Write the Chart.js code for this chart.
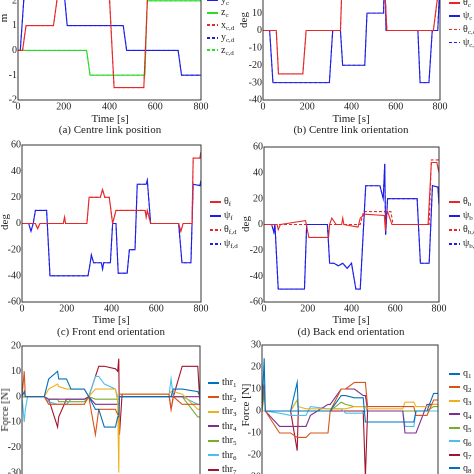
<!DOCTYPE html>
<html><head><meta charset="utf-8">
<script src="https://cdn.jsdelivr.net/npm/chart.js@4"></script>
<style>
body{margin:0;width:474px;height:474px;overflow:hidden;background:#fff;position:relative;font-family:"Liberation Serif",serif;}
canvas{position:absolute;}
.t{position:absolute;font-size:11px;color:#222;white-space:nowrap;transform:translate(-50%,-50%);}
.yl{position:absolute;font-size:11px;color:#222;white-space:nowrap;transform:translate(-50%,-50%) rotate(-90deg);}
.lg{position:absolute;font-size:10px;color:#222;white-space:nowrap;line-height:10px;}
.lg span.s{display:inline-block;width:11px;height:1.6px;vertical-align:middle;margin-right:3px;}
sub{font-size:7px;vertical-align:-2px;}
</style></head><body>
<script>
// (a) centre link position
const aT_x = [0,20,35,155,170,185,395,420,550,570,800];
const aXc  = [0,0,1,1,2,3,3,-1.5,-1.5,3,3];
const aT_y = [0,10,25,35,195,215,460,475,700,715,800];
const aYc  = [0,0,2,3,3,1,1,0,0,-1,-1];
const aT_z = [0,300,315,555,565,800];
const aZc  = [0,0,-1,-1,2,2];
// (b) centre link orientation
const bT_th = [0,60,70,180,195,350,358,548,560,770,790,800];
const bTh   = [0,0,-25,-25,0,0,30,30,0,0,20,40];
const bT_ps = [0,30,45,300,315,350,360,460,470,545,550,556,560,700,710,750,765,790,800];
const bPs   = [0,0,-30,-30,0,0,-20,-20,10,10,40,0,0,0,-30,-30,0,0,30];
// (c) front end orientation
const cT_th = [0,60,70,80,185,190,195,290,300,350,360,370,390,405,420,550,555,560,575,700,710,720,760,765,795,800];
const cTh   = [0,0,-4,0,0,5,0,0,20,20,26,20,20,0,10,10,5,10,0,0,-6,0,0,50,50,55];
const cT_ps = [0,30,40,50,60,110,125,295,305,310,320,355,360,365,395,405,420,430,470,480,505,515,555,560,575,700,715,755,765,795,800];
const cPs   = [0,0,-6,0,10,10,-40,-40,-30,-24,-30,-30,-35,-30,-30,0,0,-38,-38,-20,-20,30,30,33,0,0,-30,-30,30,29,33];
// (d) back end orientation
const dT_th = [0,60,65,75,190,205,295,300,310,330,355,360,365,430,440,460,550,555,558,565,585,750,765,790,800];
const dTh   = [0,0,-4,0,3,-10,-10,0,5,0,0,5,0,-2,5,8,7,-5,10,10,0,0,48,48,40];
const dT_thd= [0,440,455,580,590,755,765,800];
const dThd  = [0,0,10,10,0,0,50,50];
const dT_ps = [0,35,45,50,65,185,195,290,300,320,340,360,380,400,420,440,465,530,545,552,556,565,700,715,755,770,795,800];
const dPs   = [0,0,-6,0,-50,-50,0,0,-30,-30,-32,-30,-34,-30,-50,-50,30,30,20,47,-8,20,20,-30,-30,30,29,15];
// (e) thruster forces
const eT = [0,10,15,25,100,120,160,165,200,220,280,300,330,345,370,420,430,435,438,450,520,660,670,680,720,790,800];
const eThr1 = [0,2,0,0,0,7,10,7,7,3,3,0,-5,-5,-12,-12,-8,-8,0,0,0,0,0,3,3,2,0];
const eThr2 = [0,10,0,0,0,-3,-3,-3,-3,-3,-3,0,-15,-5,-5,-5,-7,-7,1,1,1,1,-5,0,-3,-3,-3];
const eThr3 = [0,0,0,0,0,3,5,4,3,3,3,0,3,3,3,3,-2,-30,1,1,1,1,2,2,1,-5,-5];
const eThr4 = [0,0,0,0,0,-1,-1,-1,-1,-1,-1,0,-3,-3,-3,-3,-3,-3,0,0,0,0,0,0,0,0,0];
const eThr5 = [0,0,0,0,0,-1,-1,-2,-2,-2,-2,0,-1,-1,-1,-1,-1,-1,0,0,0,0,0,0,0,-8,-8];
const eThr6 = [0,-10,-5,0,0,-2,-3,-3,-3,-1,-1,0,8,8,5,3,0,0,0,0,0,0,7,0,0,-3,-3];
const eThr7 = [0,0,0,0,0,-1,-12,-8,-1,-1,-1,0,8,12,12,11,10,15,-15,1,1,1,-5,0,12,12,-3];
// (f) q forces
const fT = [0,10,15,80,130,160,165,200,220,300,310,360,380,420,460,470,480,640,650,690,700,750,780,800];
const fQ1 = [0,24,0,0,0,13,0,0,0,0,0,7,7,6,6,-5,-5,-5,-5,-5,0,0,8,8];
const fQ2 = [0,12,0,-10,-10,-12,-12,-12,-10,-10,0,10,10,13,13,13,2,2,2,2,-2,-2,5,5];
const fQ3 = [0,0,0,0,0,5,2,1,1,1,1,1,1,2,2,2,1,1,4,4,2,2,3,3];
const fQ4 = [0,0,0,-7,-7,-7,-7,-7,-2,3,3,10,10,10,7,7,0,0,-10,-10,-10,3,3,3];
const fQ5 = [0,8,0,0,0,5,0,0,0,0,0,4,3,2,2,2,0,0,0,0,0,0,2,2];
const fQ6 = [0,0,0,-1,-2,-2,-2,-2,2,1,1,1,-1,-1,-1,0,0,0,-7,-7,0,0,0,0];
const fQ7 = [0,0,0,0,0,-18,0,0,0,0,0,0,0,0,0,-30,0,0,0,0,0,0,0,0];
const fQ8 = [0,0,0,0,0,0,0,0,0,0,0,0,0,0,0,0,0,0,0,0,0,0,0,0];

const RED='rgb(230,40,40)', BLUE='rgb(30,30,230)', GREEN='rgb(40,220,40)';
const M=['#0072BD','#D95319','#EDB120','#7E2F8E','#77AC30','#4DBEEE','#A2142F','#0072BD'];
const YW=20, PR=10, PT=6, XH=13;

function pts(t,v){ return t.map((x,i)=>({x:x,y:v[i]})); }
function ds(t,v,c,dash){ return {data:pts(t,v),borderColor:c,borderWidth:1.1,borderDash:dash?[3,2]:[],pointRadius:0,tension:0,fill:false}; }

const box={id:'box',afterDraw(c){const a=c.chartArea,g=c.ctx;g.save();g.strokeStyle='#333';g.lineWidth=1;g.strokeRect(a.left,a.top,a.right-a.left,a.bottom-a.top);g.restore();}};

function makeChart(L,R,T,B,ymin,ymax,ystep,sets){
  const cv=document.createElement('canvas');
  const w=R-L+YW+PR, h=B-T+PT+XH;
  cv.width=w; cv.height=h;
  cv.style.left=(L-YW)+'px'; cv.style.top=(T-PT)+'px';
  document.body.appendChild(cv);
  const tk={color:'#222',font:{family:'Liberation Serif',size:10},padding:1};
  new Chart(cv,{type:'line',data:{datasets:sets},plugins:[box],options:{
    responsive:false,animation:false,devicePixelRatio:2,
    layout:{padding:{top:PT,right:PR,left:0,bottom:0}},
    plugins:{legend:{display:false},tooltip:{enabled:false}},
    scales:{
      x:{type:'linear',min:0,max:800,ticks:{...tk,stepSize:200,maxRotation:0},grid:{display:false,drawTicks:false},border:{display:false},afterFit(s){s.height=XH;}},
      y:{min:ymin,max:ymax,ticks:{...tk,stepSize:ystep},grid:{display:false,drawTicks:false},border:{display:false},afterFit(s){s.width=YW;}}
    }}});
}
function text(cls,x,y,html){const d=document.createElement('div');d.className=cls;d.style.left=x+'px';d.style.top=y+'px';d.innerHTML=html;document.body.appendChild(d);}
function legend(x,y,dy,items){items.forEach((it,i)=>{const d=document.createElement('div');d.className='lg';d.style.left=x+'px';d.style.top=(y+i*dy-5)+'px';
  const bg=it[2]?'repeating-linear-gradient(90deg,'+it[1]+' 0 3px,transparent 3px 5px)':it[1];
  d.innerHTML='<span class="s" style="background:'+bg+'"></span>'+it[0];document.body.appendChild(d);});}

makeChart(18,201,-25,100,-2,3,1,[ds(aT_x,aXc,RED),ds(aT_y,aYc,BLUE),ds(aT_z,aZc,GREEN),ds(aT_x,aXc,RED,1),ds(aT_y,aYc,BLUE,1),ds(aT_z,aZc,GREEN,1)]);
makeChart(263,440,-40,100,-40,40,10,[ds(bT_th,bTh,RED),ds(bT_ps,bPs,BLUE),ds(bT_th,bTh,RED,1),ds(bT_ps,bPs,BLUE,1)]);
makeChart(22,201,144,302,-60,60,20,[ds(cT_th,cTh,RED),ds(cT_ps,cPs,BLUE),ds(cT_th,cTh,RED,1),ds(cT_ps,cPs,BLUE,1)]);
makeChart(264,439,146,302,-60,60,20,[ds(dT_th,dTh,RED),ds(dT_ps,dPs,BLUE),ds(dT_thd,dThd,RED,1),ds(dT_ps,dPs,BLUE,1)]);
makeChart(22,200,345,498,-40,20,10,[eThr1,eThr2,eThr3,eThr4,eThr5,eThr6,eThr7].map((v,i)=>ds(eT,v,M[i])));
makeChart(262,438,344,499,-40,30,10,[fQ1,fQ2,fQ3,fQ4,fQ5,fQ6,fQ7,fQ8].map((v,i)=>ds(fT,v,M[i])));

text('t',110,118,'Time [s]'); text('t',110,129,'(a) Centre link position');
text('t',351,118,'Time [s]'); text('t',351,129,'(b) Centre link orientation');
text('t',111,319,'Time [s]'); text('t',111,331,'(c) Front end orientation');
text('t',351,319,'Time [s]'); text('t',351,331,'(d) Back end orientation');
text('yl',3,18,'m'); text('yl',243,20,'deg'); text('yl',4,222,'deg'); text('yl',245,224,'deg');
text('yl',4,410,'Force [N]'); text('yl',245,405,'Force [N]');

legend(207,-13,12.5,[['x<sub>c</sub>',RED],['y<sub>c</sub>',BLUE],['z<sub>c</sub>',GREEN],['x<sub>c,d</sub>',RED,1],['y<sub>c,d</sub>',BLUE,1],['z<sub>c,d</sub>',GREEN,1]]);
legend(449,2,13.3,[['θ<sub>c</sub>',RED],['ψ<sub>c</sub>',BLUE],['θ<sub>c,d</sub>',RED,1],['ψ<sub>c,d</sub>',BLUE,1]]);
legend(210,201,14,[['θ<sub>f</sub>',RED],['ψ<sub>f</sub>',BLUE],['θ<sub>f,d</sub>',RED,1],['ψ<sub>f,d</sub>',BLUE,1]]);
legend(449,201,14,[['θ<sub>b</sub>',RED],['ψ<sub>b</sub>',BLUE],['θ<sub>b,d</sub>',RED,1],['ψ<sub>b,d</sub>',BLUE,1]]);
legend(208,382,14.5,[1,2,3,4,5,6,7].map(i=>['thr<sub>'+i+'</sub>',M[i-1]]));
legend(449,373,13.5,[1,2,3,4,5,6,7,8].map(i=>['q<sub>'+i+'</sub>',M[i-1]]));
</script>
</body></html>
